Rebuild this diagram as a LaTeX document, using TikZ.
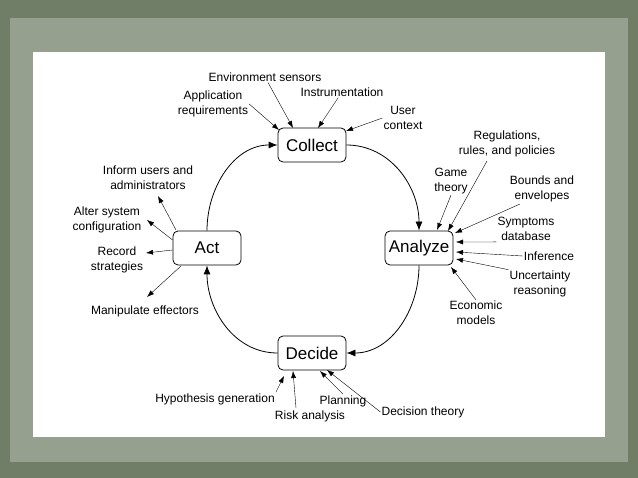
\documentclass[tikz,border=0pt]{standalone}
\usepackage{fontspec}
\setmainfont{Liberation Sans}
\usetikzlibrary{arrows.meta}
\begin{document}
\begin{tikzpicture}[x=1pt,y=-1pt,
  stage/.style={draw,thick,rounded corners=5pt,minimum width=68pt,minimum height=34pt,font=\fontsize{17}{19}\selectfont,fill=white},
  lbl/.style={font=\fontsize{12}{15}\selectfont,align=center,inner sep=1pt},
  arr/.style={-{Latex[length=7pt,width=5pt]},thin},
  cyc/.style={-{Latex[length=9pt,width=7pt]},thick}]
\fill[fill={rgb,255:red,112;green,126;blue,104}] (0,0) rectangle (638,478);
\fill[fill={rgb,255:red,150;green,160;blue,142}] (10,18) rectangle (628,462);
\fill[white] (33,52) rectangle (605,437);
\node[stage] (collect) at (312,145) {Collect};
\node[stage] (analyze) at (419,248) {Analyze};
\node[stage] (decide) at (312,353) {Decide};
\node[stage] (act) at (207,248) {Act};
\draw[cyc] (collect.east) to[out=0,in=90] (analyze.north);
\draw[cyc] (analyze.south) to[out=-90,in=0] (decide.east);
\draw[cyc] (decide.west) to[out=180,in=-90] (act.south);
\draw[cyc] (act.north) to[out=90,in=180] (collect.west);
% inputs to collect
\node[lbl] (env) at (265,77) {Environment sensors};
\node[lbl] (app) at (213,104) {Application\\requirements};
\node[lbl] (ins) at (342,92) {Instrumentation};
\node[lbl] (usr) at (403,118) {User\\context};
\draw[arr] (env) -- (293,128);
\draw[arr] (app.east) -- (279,130);
\draw[arr] (ins) -- (318,128);
\draw[arr] (usr.west) -- (346,131);
% inputs to analyze
\node[lbl] (reg) at (507,144) {Regulations,\\rules, and policies};
\node[lbl] (game) at (451,181) {Game\\theory};
\node[lbl] (bnd) at (542,189) {Bounds and\\envelopes};
\node[lbl] (sym) at (526,229) {Symptoms\\database};
\node[lbl] (inf) at (549,256) {Inference};
\node[lbl] (unc) at (540,284) {Uncertainty\\reasoning};
\node[lbl] (eco) at (476,313) {Economic\\models};
\draw[arr] (487,161) -- (448,231);
\draw[arr] (game.south) -- (437,230);
\draw[arr] (520,204) -- (455,233);
\draw[arr] (sym.south west) -- (456,242);
\draw[arr] (inf.west) -- (456,252);
\draw[arr] (unc.north west) -- (456,259);
\draw[arr] (eco.north) -- (451,267);
% inputs to decide
\node[lbl] (hyp) at (215,399) {Hypothesis generation};
\node[lbl] (risk) at (310,416) {Risk analysis};
\node[lbl] (plan) at (343,401) {Planning};
\node[lbl] (dec) at (423,412) {Decision theory};
\draw[arr] (hyp.north east) -- (284,376);
\draw[arr] (296,408) -- (293,371);
\draw[arr] (plan.north) -- (320,371);
\draw[arr] (dec.west) -- (327,370);
% outputs from act
\node[lbl] (inform) at (148,178) {Inform users and\\administrators};
\node[lbl] (alter) at (107,220) {Alter system\\configuration};
\node[lbl] (rec) at (117,260) {Record\\strategies};
\node[lbl] (man) at (145,311) {Manipulate effectors};
\draw[arr] (176,230) -- (158,196);
\draw[arr] (act.west) ++(0,-8) -- (147,220);
\draw[arr] (act.west) ++(0,2) -- (146,253);
\draw[arr] (181,266) -- (147,297);
\end{tikzpicture}
\end{document}
